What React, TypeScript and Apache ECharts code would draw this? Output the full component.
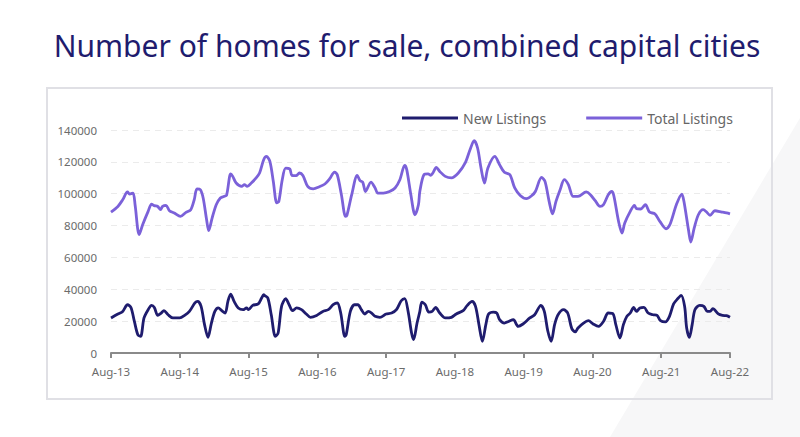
import React, { useEffect, useRef } from "react";
import * as echarts from "echarts";

// Years elapsed since Aug-2013 for each sampled reading, with the listing counts.
const totalTime = [
  0.0, 0.1, 0.17, 0.24, 0.27, 0.32, 0.35, 0.41, 0.46, 0.54, 0.59, 0.63, 0.68, 0.72, 0.75, 0.8, 0.85, 0.92,
  1.01, 1.09, 1.16, 1.21, 1.25, 1.3, 1.34, 1.39, 1.42, 1.47, 1.53, 1.59, 1.64, 1.68, 1.74, 1.77, 1.82, 1.9, 1.94, 1.98,
  2.04, 2.11, 2.16, 2.22, 2.26, 2.31, 2.36, 2.41, 2.44, 2.49, 2.54, 2.6, 2.63, 2.69, 2.74, 2.79, 2.86, 2.94,
  3.03, 3.11, 3.18, 3.25, 3.29, 3.35, 3.41, 3.43, 3.5, 3.58, 3.62, 3.66, 3.7, 3.78, 3.84, 3.88, 3.96,
  4.05, 4.13, 4.2, 4.27, 4.3, 4.36, 4.42, 4.47, 4.49, 4.55, 4.61, 4.65, 4.68, 4.73, 4.78, 4.86, 4.95,
  5.05, 5.15, 5.22, 5.28, 5.33, 5.38, 5.43, 5.48, 5.58, 5.65, 5.72, 5.8, 5.87, 5.95,
  6.04, 6.12, 6.17, 6.26, 6.31, 6.37, 6.42, 6.47, 6.53, 6.59, 6.65, 6.72, 6.79, 6.91, 6.97,
  7.04, 7.11, 7.16, 7.23, 7.28, 7.31, 7.38, 7.43, 7.47, 7.55, 7.61, 7.64, 7.7, 7.77, 7.83, 7.91, 7.98,
  8.07, 8.13, 8.22, 8.3, 8.33, 8.4, 8.43, 8.48, 8.54, 8.61, 8.66, 8.71, 8.78, 8.88, 8.95, 9.0,
];
const totalListings = [
  88500, 92000, 96200, 101100, 99800, 100400, 93100, 74300, 80500, 88900, 93500, 92500, 92000, 90000, 92000, 92700, 89300, 87900,
  85800, 88300, 90000, 96200, 103000, 102500, 97300, 83700, 76800, 84700, 93100, 97300, 98300, 99000, 112400, 110900, 106700, 104600, 105700, 104600,
  106700, 109900, 113000, 121300, 123400, 120300, 107700, 94200, 95200, 108800, 116100, 115500, 111500, 111300, 113000, 111500, 104600, 103100,
  104400, 106100, 109400, 113600, 111900, 99400, 85800, 86400, 99400, 111500, 108200, 107300, 101400, 107300, 103600, 100400, 100400,
  101400, 103600, 108800, 117800, 115100, 99400, 86800, 93100, 101400, 111900, 112400, 111500, 113000, 116500, 114000, 110900, 109900,
  113000, 119300, 127600, 133300, 128700, 116100, 106700, 116100, 123400, 118200, 113400, 111900, 103600, 98900,
  96900, 98900, 101400, 110200, 107700, 95200, 87300, 95200, 102500, 108800, 105700, 98300, 98300, 101100, 99400,
  95600, 92000, 93100, 99400, 101400, 98900, 82600, 75300, 81600, 88900, 92700, 90600, 90400, 93100, 88500, 87300, 82600,
  78000, 81000, 93100, 99800, 95200, 76300, 69700, 78500, 86800, 90000, 88500, 86400, 89300, 88500, 87900, 87300,
];

const newTime = [
  0.0, 0.1, 0.17, 0.24, 0.29, 0.34, 0.39, 0.43, 0.48, 0.54, 0.59, 0.63, 0.68, 0.73, 0.77, 0.83, 0.9,
  1.0, 1.07, 1.14, 1.22, 1.26, 1.31, 1.36, 1.41, 1.46, 1.51, 1.56, 1.61, 1.66, 1.7, 1.74, 1.79, 1.85, 1.92, 1.97,
  2.0, 2.06, 2.14, 2.19, 2.22, 2.23, 2.28, 2.33, 2.39, 2.43, 2.48, 2.54, 2.59, 2.64, 2.7, 2.77, 2.84, 2.9, 2.99,
  3.08, 3.16, 3.23, 3.29, 3.34, 3.4, 3.42, 3.48, 3.54, 3.59, 3.64, 3.69, 3.74, 3.79, 3.84, 3.91,
  4.0, 4.08, 4.15, 4.22, 4.27, 4.32, 4.37, 4.4, 4.45, 4.49, 4.52, 4.57, 4.62, 4.67, 4.72, 4.78, 4.86, 4.95,
  5.02, 5.12, 5.18, 5.25, 5.3, 5.35, 5.4, 5.45, 5.49, 5.56, 5.61, 5.65, 5.72, 5.78, 5.85, 5.92, 5.99,
  6.09, 6.16, 6.25, 6.3, 6.35, 6.4, 6.45, 6.5, 6.58, 6.64, 6.7, 6.75, 6.79, 6.87, 6.94,
  7.01, 7.09, 7.16, 7.23, 7.3, 7.34, 7.4, 7.45, 7.5, 7.55, 7.6, 7.64, 7.69, 7.75, 7.81, 7.88, 7.94, 7.99,
  8.06, 8.12, 8.18, 8.24, 8.29, 8.34, 8.37, 8.41, 8.45, 8.49, 8.56, 8.62, 8.67, 8.71, 8.75, 8.83, 8.89, 8.95, 9.0,
];
const newListings = [
  22000, 24500, 26100, 30300, 28600, 19800, 11500, 10400, 22000, 27200, 29900, 28600, 23600, 25100, 26600, 24000, 22000,
  22000, 23600, 26100, 31400, 32400, 29300, 17800, 9800, 18800, 26100, 28300, 26600, 25100, 32400, 37000, 32400, 28300, 27200, 28300,
  27200, 29900, 30800, 34500, 36600, 36200, 34500, 24000, 10400, 12600, 29300, 34100, 30300, 26600, 28300, 27200, 24500, 22400, 23600,
  26100, 27200, 30300, 31400, 25100, 10400, 11500, 26100, 30300, 30300, 27200, 24500, 26100, 25100, 23000, 22400,
  24500, 25100, 27200, 32800, 34100, 26100, 12600, 8400, 18800, 26000, 32000, 30300, 25700, 26100, 28600, 25100, 22000, 22400,
  24500, 26600, 29900, 32400, 29300, 17800, 7300, 17800, 24500, 25700, 25100, 20900, 18800, 19800, 20900, 16700, 18200,
  22000, 24000, 29900, 26100, 14000, 7300, 17800, 24000, 27200, 25100, 15300, 13200, 15700, 18800, 20300,
  18200, 16700, 19800, 25100, 24500, 17800, 9400, 17800, 23000, 25100, 28600, 26100, 28300, 28600, 25100, 24000, 23600, 20300,
  19500, 23000, 30800, 34100, 36200, 29300, 15700, 9800, 17800, 27200, 29900, 29300, 26100, 26100, 27800, 24500, 23600, 23400, 22400,
];

const seriesNames = ["New Listings", "Total Listings"];
const yearLabels = ["Aug-13", "Aug-14", "Aug-15", "Aug-16", "Aug-17", "Aug-18", "Aug-19", "Aug-20", "Aug-21", "Aug-22"];
const titleText = "Number of homes for sale, combined capital cities";

const FONT = "'Noto Sans', 'Open Sans', sans-serif";
const NAVY = "#1f1c6e";
const PURPLE = "#7b61d9";

const pair = (xs: number[], ys: number[]) => xs.map((x, i) => [x, ys[i]]);

export default function App() {
  const ref = useRef<HTMLDivElement>(null);

  useEffect(() => {
    document.body.style.margin = "0";
    if (!ref.current) return;
    const chart = echarts.init(ref.current, null, { renderer: "svg" });
    chart.setOption({
      animation: false,
      backgroundColor: "#ffffff",
      textStyle: { fontFamily: FONT },
      graphic: [
        {
          type: "polygon",
          silent: true,
          z: -10,
          shape: { points: [[800, 118], [800, 437], [610, 437]] },
          style: { fill: "#f7f7f8" },
        },
        {
          type: "rect",
          silent: true,
          z: -5,
          shape: { x: 47, y: 88, width: 725, height: 311 },
          style: { fill: "none", stroke: "#e0e0e5", lineWidth: 2 },
        },
        {
          type: "text",
          silent: true,
          style: {
            text: titleText,
            x: 407,
            y: 45,
            textAlign: "center",
            textVerticalAlign: "middle",
            fontSize: 30,
            fontFamily: FONT,
            fill: NAVY,
          },
        },
      ],
      legend: {
        data: seriesNames,
        left: 397,
        top: 106,
        icon: "rect",
        itemWidth: 56,
        itemHeight: 3,
        itemGap: 40,
        textStyle: { color: "#666666", fontSize: 14, fontFamily: FONT },
      },
      grid: { left: 111, right: 70, top: 130, bottom: 84, containLabel: false },
      xAxis: {
        type: "value",
        min: 0,
        max: 9,
        interval: 1,
        axisLine: { show: true, onZero: false, lineStyle: { color: "#8a8a8a", width: 2 } },
        axisTick: { show: true, length: 5, lineStyle: { color: "#8a8a8a", width: 2 } },
        splitLine: { show: false },
        axisLabel: {
          margin: 12,
          color: "#6b6b6b",
          fontSize: 11.5,
          fontFamily: FONT,
          formatter: (v: number) => yearLabels[Math.round(v)] ?? "",
        },
      },
      yAxis: {
        type: "value",
        min: 0,
        max: 140000,
        interval: 20000,
        axisLine: { show: false },
        axisTick: { show: false },
        splitLine: { show: true, lineStyle: { color: "#ebebeb", type: [6, 5], width: 1 } },
        axisLabel: {
          margin: 14,
          color: "#6b6b6b",
          fontSize: 11.5,
          fontFamily: FONT,
          formatter: (v: number) => String(v),
        },
      },
      series: [
        {
          name: seriesNames[0],
          type: "line",
          data: pair(newTime, newListings),
          showSymbol: false,
          symbol: "none",
          smooth: 0.3,
          color: NAVY,
          lineStyle: { color: NAVY, width: 2.8 },
        },
        {
          name: seriesNames[1],
          type: "line",
          data: pair(totalTime, totalListings),
          showSymbol: false,
          symbol: "none",
          smooth: 0.3,
          color: PURPLE,
          lineStyle: { color: PURPLE, width: 2.8 },
        },
      ],
    });
    return () => chart.dispose();
  }, []);

  return <div ref={ref} style={{ position: "absolute", left: 0, top: 0, width: 800, height: 437 }} />;
}
